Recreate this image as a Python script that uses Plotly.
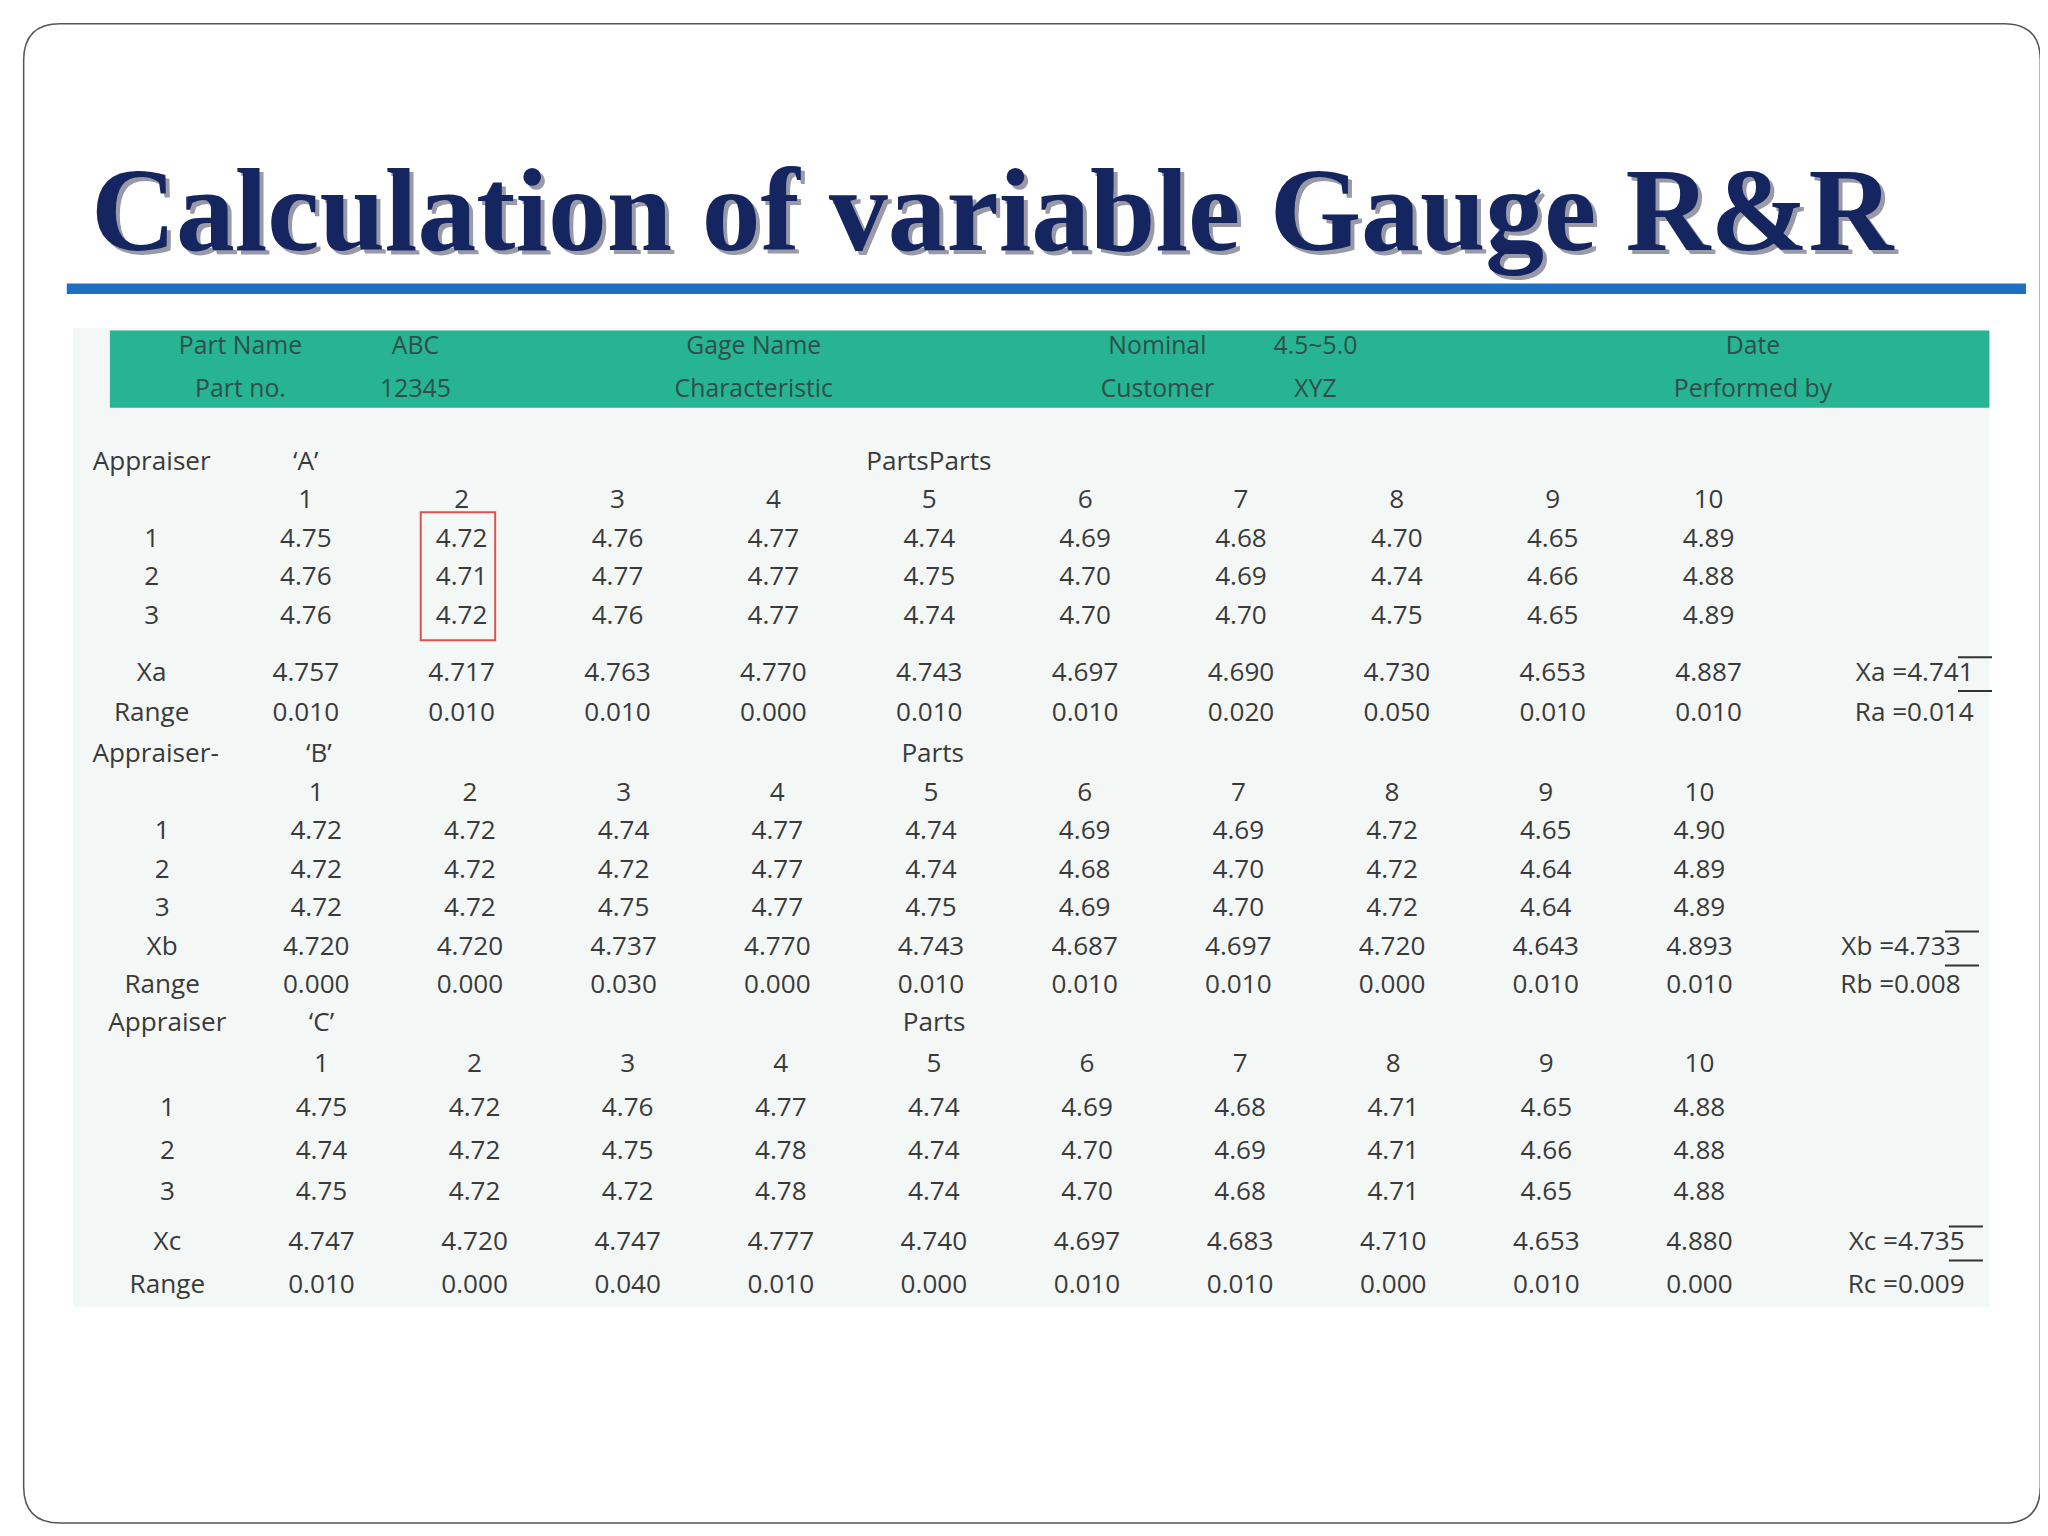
import plotly.graph_objects as go

# ---------------- data ----------------
parts = [str(i) for i in range(1, 11)]
trial_labels = ["1", "2", "3"]

A_trials = [[4.75, 4.72, 4.76, 4.77, 4.74, 4.69, 4.68, 4.70, 4.65, 4.89],
            [4.76, 4.71, 4.77, 4.77, 4.75, 4.70, 4.69, 4.74, 4.66, 4.88],
            [4.76, 4.72, 4.76, 4.77, 4.74, 4.70, 4.70, 4.75, 4.65, 4.89]]
A_mean = [4.757, 4.717, 4.763, 4.770, 4.743, 4.697, 4.690, 4.730, 4.653, 4.887]
A_range = [0.010, 0.010, 0.010, 0.000, 0.010, 0.010, 0.020, 0.050, 0.010, 0.010]

B_trials = [[4.72, 4.72, 4.74, 4.77, 4.74, 4.69, 4.69, 4.72, 4.65, 4.90],
            [4.72, 4.72, 4.72, 4.77, 4.74, 4.68, 4.70, 4.72, 4.64, 4.89],
            [4.72, 4.72, 4.75, 4.77, 4.75, 4.69, 4.70, 4.72, 4.64, 4.89]]
B_mean = [4.720, 4.720, 4.737, 4.770, 4.743, 4.687, 4.697, 4.720, 4.643, 4.893]
B_range = [0.000, 0.000, 0.030, 0.000, 0.010, 0.010, 0.010, 0.000, 0.010, 0.010]

C_trials = [[4.75, 4.72, 4.76, 4.77, 4.74, 4.69, 4.68, 4.71, 4.65, 4.88],
            [4.74, 4.72, 4.75, 4.78, 4.74, 4.70, 4.69, 4.71, 4.66, 4.88],
            [4.75, 4.72, 4.72, 4.78, 4.74, 4.70, 4.68, 4.71, 4.65, 4.88]]
C_mean = [4.747, 4.720, 4.747, 4.777, 4.740, 4.697, 4.683, 4.710, 4.653, 4.880]
C_range = [0.010, 0.000, 0.040, 0.010, 0.000, 0.010, 0.010, 0.000, 0.010, 0.000]

summary = {"A": ("Xa =4.741", "Ra =0.014"),
           "B": ("Xb =4.733", "Rb =0.008"),
           "C": ("Xc =4.735", "Rc =0.009")}

header_row1 = ["Part Name", "ABC", "Gage Name", "Nominal", "4.5~5.0", "Date"]
header_row2 = ["Part no.", "12345", "Characteristic", "Customer", "XYZ", "Performed by"]

# ---------------- layout (reference-pixel coordinates) ----------------
W, H = 1568, 1176
S = 2048 / W
FONT = "Open Sans"
TXT = "#3a3a3a"

blocks = [
    dict(key="A", trials=A_trials, mean=A_mean, rng=A_range, mlabel="Xa",
         hdr=("Appraiser", "‘A’", "PartsParts"), hdrx=(110, 228, 705), labx=110,
         c1=228, c10=1302, ys=dict(hdr=349, parts=378, t=[408, 437, 467], m=510, r=541),
         sx=1505, sy=(510, 541)),
    dict(key="B", trials=B_trials, mean=B_mean, rng=B_range, mlabel="Xb",
         hdr=("Appraiser-", "‘B’", "Parts"), hdrx=(113, 238, 708), labx=118,
         c1=236, c10=1295, ys=dict(hdr=572, parts=602, t=[631, 661, 690], m=720, r=749),
         sx=1495, sy=(720, 749)),
    dict(key="C", trials=C_trials, mean=C_mean, rng=C_range, mlabel="Xc",
         hdr=("Appraiser", "‘C’", "Parts"), hdrx=(122, 240, 709), labx=122,
         c1=240, c10=1295, ys=dict(hdr=778, parts=810, t=[843, 876, 908], m=946, r=979),
         sx=1498, sy=(946, 979)),
]

fig = go.Figure()

def add_text(xs, ys, texts, size=20, color=TXT, pos="middle center", family=FONT):
    fig.add_trace(go.Scatter(x=xs, y=ys, text=texts, mode="text", textposition=pos,
                             textfont=dict(size=size * S, color=color, family=family),
                             hoverinfo="skip", showlegend=False))

for b in blocks:
    step = (b["c10"] - b["c1"]) / 9
    cx = [b["c1"] + i * step for i in range(10)]
    ys = b["ys"]
    add_text(list(b["hdrx"]), [ys["hdr"]] * 3, list(b["hdr"]))
    add_text(cx, [ys["parts"]] * 10, parts)
    for ti, row in enumerate(b["trials"]):
        add_text([b["labx"]] + cx, [ys["t"][ti]] * 11,
                 [trial_labels[ti]] + [f"{v:.2f}" for v in row])
    add_text([b["labx"]] + cx, [ys["m"]] * 11, [b["mlabel"]] + [f"{v:.3f}" for v in b["mean"]])
    add_text([b["labx"]] + cx, [ys["r"]] * 11, ["Range"] + [f"{v:.3f}" for v in b["rng"]])
    s1, s2 = summary[b["key"]]
    add_text([b["sx"], b["sx"]], list(b["sy"]), [s1, s2], pos="middle left")

hx = [178, 312, 571, 880, 1001, 1336]
add_text(hx, [260] * 6, header_row1, size=19, color="#2f4f4a")
add_text(hx, [293] * 6, header_row2, size=19, color="#2f4f4a")

shapes = [
    dict(type="path", path="M 40 12 L 1528 12 Q 1556 12 1556 40 L 1556 1132 Q 1556 1160 1528 1160 "
         "L 40 1160 Q 12 1160 12 1132 L 12 40 Q 12 12 40 12 Z",
         line=dict(color="#555555", width=1.5), fillcolor="rgba(0,0,0,0)", layer="below"),
    dict(type="rect", x0=50, x1=1517, y0=245, y1=995, fillcolor="#f3f7f6", line_width=0, layer="below"),
    dict(type="rect", x0=78, x1=1517, y0=247, y1=306, fillcolor="#26b493", line_width=0, layer="below"),
    dict(type="line", x0=45, x1=1545, y0=215, y1=215, line=dict(color="#1f6fc0", width=8 * S)),
    dict(type="rect", x0=316, x1=373, y0=386, y1=484, line=dict(color="#d9534f", width=2), fillcolor="rgba(0,0,0,0)"),
]
for b in blocks:
    y = b["sy"][0] - 13
    x0 = b["sx"] - 12
    shapes.append(dict(type="line", x0=x0, x1=x0 + 26, y0=y, y1=y, line=dict(color="#333", width=2)))
    shapes.append(dict(type="line", x0=x0, x1=x0 + 26, y0=y + 26, y1=y + 26, line=dict(color="#333", width=2)))

annotations = [
    dict(x=65, y=158, xref="x", yref="y", text="<b>Calculation of variable Gauge R&R</b>",
         showarrow=False, xanchor="left", yanchor="middle",
         font=dict(family="Liberation Serif", size=90 * S, color="#9a9aa6")),
    dict(x=62, y=155, xref="x", yref="y", text="<b>Calculation of variable Gauge R&R</b>",
         showarrow=False, xanchor="left", yanchor="middle",
         font=dict(family="Liberation Serif", size=90 * S, color="#142560")),
]

fig.update_layout(width=2048, height=1536, margin=dict(l=0, r=0, t=0, b=0),
                  paper_bgcolor="white", plot_bgcolor="white",
                  xaxis=dict(range=[0, W], visible=False, fixedrange=True),
                  yaxis=dict(range=[H, 0], visible=False, fixedrange=True),
                  shapes=shapes, annotations=annotations)
fig.write_html("out.html")
